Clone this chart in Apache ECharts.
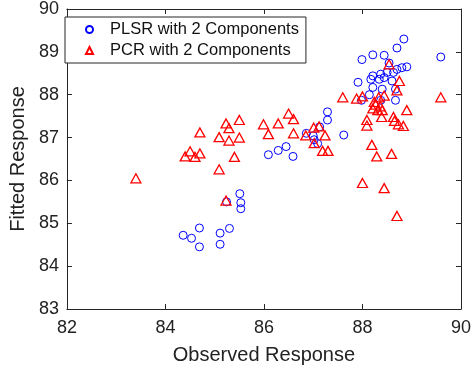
<!DOCTYPE html>
<html>
<head>
<meta charset="utf-8">
<style>html,body{margin:0;padding:0;background:#fff;}#c{width:474px;height:370px;}</style>
<script src="https://cdn.jsdelivr.net/npm/echarts@6/dist/echarts.min.js"></script>
</head>
<body>
<div id="c"></div>
<script>
// PLSR with 2 Components: [observed, fitted]
const plsrObserved = [88.84,88.70,87.99,88.21,88.44,89.59,88.54,88.70,88.80,88.90,88.63,88.50,88.37,88.21,88.17,88.34,88.44,87.91,88.21,88.40,88.67,87.98,88.37,88.67,88.14,88.60,86.09,86.29,86.45,86.59,86.86,87.00,87.09,87.13,87.29,87.29,87.62,85.51,85.53,85.53,84.69,84.36,84.53,84.69,85.11,85.11,85.30,85.24,87.02];
const plsrFitted   = [89.30,89.09,88.82,88.93,88.92,88.88,88.74,88.59,88.63,88.65,88.52,88.52,88.48,88.44,88.36,88.36,88.40,88.29,88.17,88.13,88.13,87.87,87.87,87.87,88.00,88.32,86.60,86.70,86.79,86.56,87.10,87.04,86.86,87.25,87.41,87.60,87.06,85.69,85.48,85.34,84.89,84.72,84.65,84.45,84.77,84.51,84.88,85.50,86.95];
// PCR with 2 Components: [observed, fitted]
const pcrObserved = [83.40,84.70,84.40,84.50,84.60,84.70,85.09,85.29,85.50,85.23,85.29,85.50,85.40,85.09,85.23,85.99,86.29,86.09,86.50,86.60,86.60,86.85,87.01,87.12,87.24,87.02,87.19,87.30,87.60,87.88,88.00,88.33,88.44,88.54,88.75,88.70,88.24,88.21,88.31,88.40,88.90,89.59,88.09,88.09,88.39,88.63,88.65,88.73,88.83,88.19,88.29,88.59,88.00,88.44,88.70,88.27,88.36];
const pcrFitted   = [86.05,87.12,86.56,86.68,86.55,86.63,87.01,86.93,87.00,87.33,87.22,87.41,86.55,86.26,85.53,87.31,87.33,87.08,87.56,87.43,87.10,87.05,87.23,87.26,87.05,86.87,86.69,86.69,87.94,87.91,87.96,87.94,87.98,88.71,88.32,88.10,87.83,87.68,87.64,87.64,87.64,87.94,87.41,87.28,87.48,87.48,87.39,87.31,87.27,86.83,86.56,86.62,85.94,85.82,85.17,87.77,87.73];
const xTicks = [82, 84, 86, 88, 90];
const yTicks = [83, 84, 85, 86, 87, 88, 89, 90];
const xName = 'Observed Response';
const yName = 'Fitted Response';
const seriesNames = ['PLSR with 2 Components', 'PCR with 2 Components'];

const font = '"Liberation Sans", Arial, sans-serif';
const axisColor = '#262626';
const zip = (a, b) => a.map((v, i) => [v, b[i]]);

const chart = echarts.init(document.getElementById('c'), null, {renderer: 'canvas'});
const baseAxis = {
  axisLine: {show: true, onZero: false, lineStyle: {color: axisColor, width: 1}},
  axisTick: {show: true, inside: true, length: 5, lineStyle: {color: axisColor}},
  splitLine: {show: false}
};
chart.setOption({
  animation: false,
  backgroundColor: '#fff',
  grid: {left: 55, right: 13, top: 7, bottom: 58, containLabel: false},
  legend: {
    left: 65, top: 17, orient: 'vertical',
    borderColor: '#262626', borderWidth: 1, backgroundColor: '#fff',
    padding: [4, 7, 4, 20], itemGap: 4, itemWidth: 7, itemHeight: 7,
    textStyle: {fontFamily: font, fontSize: 16.5, color: '#111', padding: [0, 0, 0, 12]},
    data: seriesNames
  },
  xAxis: [
    Object.assign({}, baseAxis, {
      type: 'value', min: xTicks[0], max: xTicks[xTicks.length - 1], interval: 2, position: 'bottom',
      name: xName, nameLocation: 'middle', nameGap: 36,
      nameTextStyle: {fontFamily: font, fontSize: 20, color: '#222'},
      axisLabel: {fontFamily: font, fontSize: 18, color: '#222', margin: 10}
    }),
    Object.assign({}, baseAxis, {
      type: 'value', min: xTicks[0], max: xTicks[xTicks.length - 1], interval: 2, position: 'top',
      axisLabel: {show: false}
    })
  ],
  yAxis: [
    Object.assign({}, baseAxis, {
      type: 'value', min: yTicks[0], max: yTicks[yTicks.length - 1], interval: 1, position: 'left',
      name: yName, nameLocation: 'middle', nameGap: 35,
      nameTextStyle: {fontFamily: font, fontSize: 20, color: '#222'},
      axisLabel: {fontFamily: font, fontSize: 18, color: '#222', margin: 8}
    }),
    Object.assign({}, baseAxis, {
      type: 'value', min: yTicks[0], max: yTicks[yTicks.length - 1], interval: 1, position: 'right',
      axisLabel: {show: false}
    })
  ],
  series: [
    {
      name: seriesNames[0], type: 'scatter', data: zip(plsrObserved, plsrFitted),
      symbol: 'circle', symbolSize: 8,
      itemStyle: {color: 'rgba(0,0,0,0)', borderColor: '#0000ff', borderWidth: 1, opacity: 1}
    },
    {
      name: seriesNames[1], type: 'scatter', data: zip(pcrObserved, pcrFitted),
      symbol: 'triangle', symbolSize: [10, 9],
      itemStyle: {color: 'rgba(0,0,0,0)', borderColor: '#ff0000', borderWidth: 1.3, opacity: 1}
    }
  ]
});
</script>
</body>
</html>
